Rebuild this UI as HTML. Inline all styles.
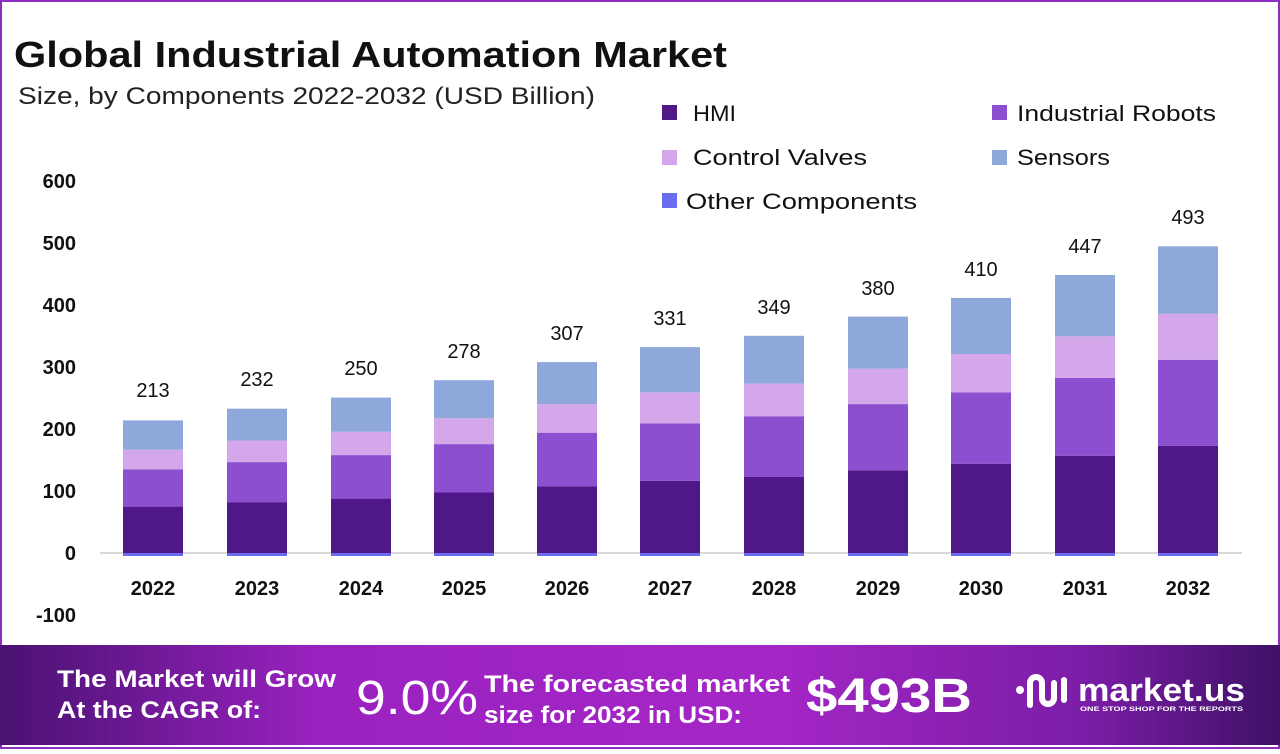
<!DOCTYPE html>
<html><head><meta charset="utf-8"><style>
body{margin:0;width:1280px;height:749px;overflow:hidden;background:#fff;font-family:"Liberation Sans",sans-serif}
</style></head><body>
<svg width="1280" height="749" xmlns="http://www.w3.org/2000/svg" font-family="Liberation Sans, sans-serif">
<defs>
<linearGradient id="bg" x1="0" x2="1" y1="0" y2="0">
<stop offset="0" stop-color="#4a1272"/><stop offset="0.25" stop-color="#9a22c0"/><stop offset="0.6" stop-color="#a526c6"/><stop offset="0.85" stop-color="#7a1da6"/><stop offset="1" stop-color="#3f1166"/>
</linearGradient>
</defs>
<rect x="1" y="1" width="1278" height="747" fill="#fff" stroke="#8a2fc0" stroke-width="2"/>
<text x="14" y="67" font-size="36" font-weight="bold" fill="#111" textLength="713" lengthAdjust="spacingAndGlyphs">Global Industrial Automation Market</text>
<text x="18" y="104" font-size="24" fill="#222" textLength="577" lengthAdjust="spacingAndGlyphs">Size, by Components 2022-2032 (USD Billion)</text>
<g font-size="22" fill="#111">
<rect x="662" y="105" width="15" height="15" fill="#4f1787"/><text x="693" y="121" textLength="43" lengthAdjust="spacingAndGlyphs">HMI</text>
<rect x="992" y="105" width="15" height="15" fill="#8b4fcf"/><text x="1017" y="121" textLength="199" lengthAdjust="spacingAndGlyphs">Industrial Robots</text>
<rect x="662" y="150" width="15" height="15" fill="#d4a6ea"/><text x="693" y="165" textLength="174" lengthAdjust="spacingAndGlyphs">Control Valves</text>
<rect x="992" y="150" width="15" height="15" fill="#8ea8dc"/><text x="1017" y="165" textLength="93" lengthAdjust="spacingAndGlyphs">Sensors</text>
<rect x="662" y="193" width="15" height="15" fill="#6b6bef"/><text x="686" y="209" textLength="231" lengthAdjust="spacingAndGlyphs">Other Components</text>
</g>
<g font-size="20" font-weight="bold" fill="#111" text-anchor="end">
<text x="76" y="188">600</text><text x="76" y="250">500</text><text x="76" y="312">400</text><text x="76" y="374">300</text><text x="76" y="436">200</text><text x="76" y="498">100</text><text x="76" y="560">0</text><text x="76" y="622">-100</text>
</g>
<line x1="100" y1="553" x2="1242" y2="553" stroke="#ccc" stroke-width="1.5"/>
<g>
<rect x="123" y="553" width="60" height="3" fill="#6b6bef"/>
<rect x="123" y="506.6" width="60" height="46.4" fill="#4f1787"/><rect x="123" y="469.5" width="60" height="37.1" fill="#8b4fcf"/><rect x="123" y="449.6" width="60" height="19.9" fill="#d4a6ea"/><rect x="123" y="420.4" width="60" height="29.2" fill="#8ea8dc"/>
<rect x="227" y="553" width="60" height="3" fill="#6b6bef"/>
<rect x="227" y="502.5" width="60" height="50.5" fill="#4f1787"/><rect x="227" y="462.1" width="60" height="40.4" fill="#8b4fcf"/><rect x="227" y="440.5" width="60" height="21.6" fill="#d4a6ea"/><rect x="227" y="408.7" width="60" height="31.8" fill="#8ea8dc"/>
<rect x="331" y="553" width="60" height="3" fill="#6b6bef"/>
<rect x="331" y="498.6" width="60" height="54.4" fill="#4f1787"/><rect x="331" y="455.1" width="60" height="43.5" fill="#8b4fcf"/><rect x="331" y="431.8" width="60" height="23.3" fill="#d4a6ea"/><rect x="331" y="397.6" width="60" height="34.2" fill="#8ea8dc"/>
<rect x="434" y="553" width="60" height="3" fill="#6b6bef"/>
<rect x="434" y="492.5" width="60" height="60.5" fill="#4f1787"/><rect x="434" y="444.1" width="60" height="48.4" fill="#8b4fcf"/><rect x="434" y="418.2" width="60" height="25.9" fill="#d4a6ea"/><rect x="434" y="380.2" width="60" height="38" fill="#8ea8dc"/>
<rect x="537" y="553" width="60" height="3" fill="#6b6bef"/>
<rect x="537" y="486.2" width="60" height="66.8" fill="#4f1787"/><rect x="537" y="432.7" width="60" height="53.5" fill="#8b4fcf"/><rect x="537" y="404.1" width="60" height="28.6" fill="#d4a6ea"/><rect x="537" y="362.1" width="60" height="42" fill="#8ea8dc"/>
<rect x="640" y="553" width="60" height="3" fill="#6b6bef"/>
<rect x="640" y="480.9" width="60" height="72.1" fill="#4f1787"/><rect x="640" y="423.3" width="60" height="57.6" fill="#8b4fcf"/><rect x="640" y="392.4" width="60" height="30.9" fill="#d4a6ea"/><rect x="640" y="347.1" width="60" height="45.3" fill="#8ea8dc"/>
<rect x="744" y="553" width="60" height="3" fill="#6b6bef"/>
<rect x="744" y="477" width="60" height="76" fill="#4f1787"/><rect x="744" y="416.2" width="60" height="60.8" fill="#8b4fcf"/><rect x="744" y="383.6" width="60" height="32.6" fill="#d4a6ea"/><rect x="744" y="335.8" width="60" height="47.8" fill="#8ea8dc"/>
<rect x="848" y="553" width="60" height="3" fill="#6b6bef"/>
<rect x="848" y="470.3" width="60" height="82.7" fill="#4f1787"/><rect x="848" y="404.1" width="60" height="66.2" fill="#8b4fcf"/><rect x="848" y="368.6" width="60" height="35.5" fill="#d4a6ea"/><rect x="848" y="316.6" width="60" height="52" fill="#8ea8dc"/>
<rect x="951" y="553" width="60" height="3" fill="#6b6bef"/>
<rect x="951" y="463.7" width="60" height="89.3" fill="#4f1787"/><rect x="951" y="392.3" width="60" height="71.4" fill="#8b4fcf"/><rect x="951" y="354" width="60" height="38.3" fill="#d4a6ea"/><rect x="951" y="297.9" width="60" height="56.1" fill="#8ea8dc"/>
<rect x="1055" y="553" width="60" height="3" fill="#6b6bef"/>
<rect x="1055" y="455.7" width="60" height="97.3" fill="#4f1787"/><rect x="1055" y="377.9" width="60" height="77.8" fill="#8b4fcf"/><rect x="1055" y="336.2" width="60" height="41.7" fill="#d4a6ea"/><rect x="1055" y="275" width="60" height="61.2" fill="#8ea8dc"/>
<rect x="1158" y="553" width="60" height="3" fill="#6b6bef"/>
<rect x="1158" y="445.7" width="60" height="107.3" fill="#4f1787"/><rect x="1158" y="359.8" width="60" height="85.9" fill="#8b4fcf"/><rect x="1158" y="313.8" width="60" height="46" fill="#d4a6ea"/><rect x="1158" y="246.3" width="60" height="67.5" fill="#8ea8dc"/>
</g>
<g font-size="20" text-anchor="middle" fill="#111">
<text x="153" y="397">213</text><text x="257" y="386">232</text><text x="361" y="375">250</text><text x="464" y="358">278</text><text x="567" y="340">307</text><text x="670" y="325">331</text><text x="774" y="314">349</text><text x="878" y="295">380</text><text x="981" y="276">410</text><text x="1085" y="253">447</text><text x="1188" y="224">493</text>
</g>
<g font-size="20" font-weight="bold" text-anchor="middle" fill="#111">
<text x="153" y="595">2022</text><text x="257" y="595">2023</text><text x="361" y="595">2024</text><text x="464" y="595">2025</text><text x="567" y="595">2026</text><text x="670" y="595">2027</text><text x="774" y="595">2028</text><text x="878" y="595">2029</text><text x="981" y="595">2030</text><text x="1085" y="595">2031</text><text x="1188" y="595">2032</text>
</g>
<rect x="0" y="645" width="1280" height="100" fill="url(#bg)"/>
<g fill="#fff" font-weight="bold">
<text x="57" y="687" font-size="24" textLength="279" lengthAdjust="spacingAndGlyphs">The Market will Grow</text>
<text x="57" y="718" font-size="24" textLength="204" lengthAdjust="spacingAndGlyphs">At the CAGR of:</text>
<text x="356" y="714" font-size="48" font-weight="normal" textLength="122" lengthAdjust="spacingAndGlyphs">9.0%</text>
<text x="484" y="692" font-size="24" textLength="306" lengthAdjust="spacingAndGlyphs">The forecasted market</text>
<text x="484" y="723" font-size="24" textLength="258" lengthAdjust="spacingAndGlyphs">size for 2032 in USD:</text>
<text x="806" y="712" font-size="48" textLength="166" lengthAdjust="spacingAndGlyphs">$493B</text>
<circle cx="1020" cy="690" r="4" fill="#fff"/>
<path d="M1030 705 V683 a6 6 0 0 1 12 0 V698 a6 6 0 0 0 12 0 V683 M1064 680 V700" stroke="#fff" stroke-width="6" fill="none" stroke-linecap="round"/>
<text x="1078" y="701" font-size="32" textLength="167" lengthAdjust="spacingAndGlyphs">market.us</text>
<text x="1080" y="711" font-size="6" textLength="163" lengthAdjust="spacingAndGlyphs">ONE STOP SHOP FOR THE REPORTS</text>
</g>
</svg>
</body></html>
